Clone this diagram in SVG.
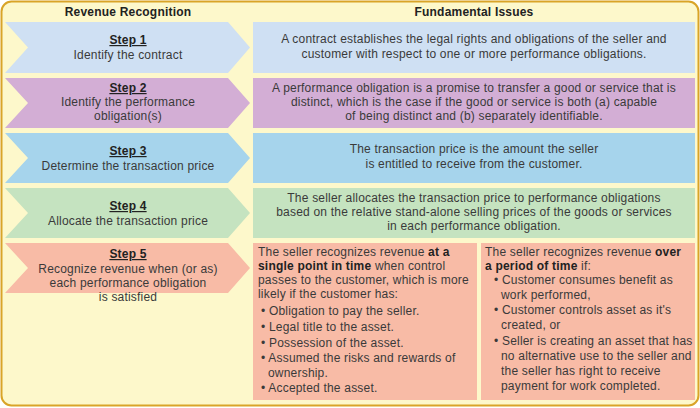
<svg xmlns="http://www.w3.org/2000/svg" width="700" height="408" viewBox="0 0 700 408">
<style>
text{font-family:"Liberation Sans",Arial,sans-serif;font-size:12px;letter-spacing:0.2px;fill:#3a3a3a}
.h{font-weight:bold;fill:#222;font-size:12px}
.s{font-weight:bold;fill:#222;text-decoration:underline}
.c{text-anchor:middle}
.b{font-weight:bold;fill:#222}
</style>
<rect x="1.5" y="1.5" width="697" height="404" rx="10" fill="#fdf8cb" stroke="#d9a428" stroke-width="2"/>
<text class="h c" x="128" y="16">Revenue Recognition</text>
<text class="h c" x="474" y="16">Fundamental Issues</text>
<g id="step1"><polygon points="5,22 228,22 250,47.5 228,73 5,73 28,47.5" fill="#cfe0f3"/>
<text class="s c" x="128" y="44">Step 1</text><text class="c" x="128" y="59">Identify the contract</text></g>
<g id="issue1"><rect x="253" y="22" width="442" height="51" fill="#cfe0f3"/>
<text class="c" x="474" y="43">A contract establishes the legal rights and obligations of the seller and</text>
<text class="c" x="474" y="58">customer with respect to one or more performance obligations.</text></g>
<g id="step2"><polygon points="5,78 228,78 250,103 228,128 5,128 28,103" fill="#d3aed5"/>
<text class="s c" x="128" y="92">Step 2</text><text class="c" x="128" y="106">Identify the performance</text><text class="c" x="128" y="120">obligation(s)</text></g>
<g id="issue2"><rect x="253" y="78" width="442" height="50" fill="#d3aed5"/>
<text class="c" x="474" y="92">A performance obligation is a promise to transfer a good or service that is</text>
<text class="c" x="474" y="106">distinct, which is the case if the good or service is both (a) capable</text>
<text class="c" x="474" y="120">of being distinct and (b) separately identifiable.</text></g>
<g id="step3"><polygon points="5,133 228,133 250,158 228,183 5,183 28,158" fill="#a6d4ec"/>
<text class="s c" x="128" y="155">Step 3</text><text class="c" x="128" y="170">Determine the transaction price</text></g>
<g id="issue3"><rect x="253" y="133" width="442" height="50" fill="#a6d4ec"/>
<text class="c" x="474" y="153">The transaction price is the amount the seller</text>
<text class="c" x="474" y="168">is entitled to receive from the customer.</text></g>
<g id="step4"><polygon points="5,188 228,188 250,213 228,238 5,238 28,213" fill="#c5e3c0"/>
<text class="s c" x="128" y="210">Step 4</text><text class="c" x="128" y="225">Allocate the transaction price</text></g>
<g id="issue4"><rect x="253" y="188" width="442" height="50" fill="#c5e3c0"/>
<text class="c" x="474" y="202">The seller allocates the transaction price to performance obligations</text>
<text class="c" x="474" y="216">based on the relative stand-alone selling prices of the goods or services</text>
<text class="c" x="474" y="230">in each performance obligation.</text></g>
<g id="step5"><polygon points="5,243 228,243 250,268 228,293 5,293 28,268" fill="#f8bba6"/>
<text class="s c" x="128" y="258">Step 5</text><text class="c" x="128" y="273">Recognize revenue when (or as)</text><text class="c" x="128" y="287">each performance obligation</text><text class="c" x="128" y="301">is satisfied</text></g>
<g id="issue5a"><rect x="253" y="243" width="224" height="157" fill="#f8bba6"/>
<text x="258" y="256">The seller recognizes revenue <tspan class="b">at a</tspan></text>
<text x="258" y="270"><tspan class="b">single point in time</tspan> when control</text>
<text x="258" y="284">passes to the customer, which is more</text>
<text x="258" y="298">likely if the customer has:</text>
<text x="261" y="315">• Obligation to pay the seller.</text>
<text x="261" y="331">• Legal title to the asset.</text>
<text x="261" y="347">• Possession of the asset.</text>
<text x="261" y="362">• Assumed the risks and rewards of</text>
<text x="268" y="377">ownership.</text>
<text x="261" y="392">• Accepted the asset.</text></g>
<g id="issue5b"><rect x="481" y="243" width="214" height="157" fill="#f8bba6"/>
<text x="485" y="256">The seller recognizes revenue <tspan class="b">over</tspan></text>
<text x="485" y="270"><tspan class="b">a period of time</tspan> if:</text>
<text x="494" y="284">• Customer consumes benefit as</text>
<text x="501" y="299">work performed,</text>
<text x="494" y="314">• Customer controls asset as it's</text>
<text x="501" y="329">created, or</text>
<text x="494" y="345">• Seller is creating an asset that has</text>
<text x="501" y="360">no alternative use to the seller and</text>
<text x="501" y="375">the seller has right to receive</text>
<text x="501" y="390">payment for work completed.</text></g>
<g id="connectors"/>
</svg>
